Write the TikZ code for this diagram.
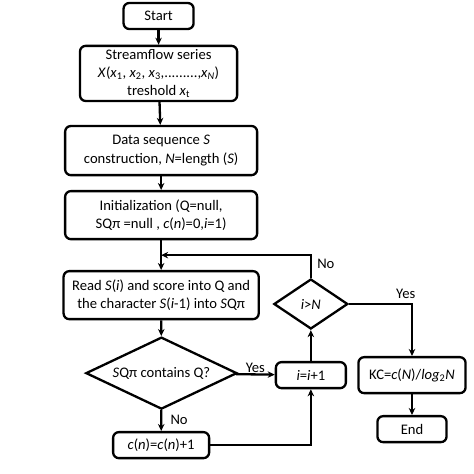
\documentclass[tikz,border=0pt]{standalone}
\usepackage{fontspec}
\setmainfont{Carlito}
\usetikzlibrary{shapes.geometric, arrows.meta}

\tikzset{
  box/.style={draw, rounded corners=0.2cm, align=center, inner sep=1pt},
  test/.style={draw, diamond, align=center, inner sep=0pt},
  lbl/.style={inner sep=1pt}
}

\begin{document}
\fontsize{14.5bp}{18bp}\selectfont
\begin{tikzpicture}[>={Stealth[length=7pt, width=6.5pt]}, line width=2.3pt]
    \useasboundingbox (0,0) rectangle (16.59,-16.59);

    % Main column
    \node[box, minimum width=2.45cm, minimum height=0.91cm] (start) at (5.55,-0.56) {Start};
    \node[box, minimum width=5.5cm, minimum height=1.93cm] (series) at (5.55,-2.57)
        {Streamflow series\\ \textit{X}(\textit{x}\textsubscript{1}, \textit{x}\textsubscript{2}, \textit{x}\textsubscript{3},.........,\textit{x}\textsubscript{\textit{N}})\\ treshold \textit{x}\textsubscript{t}};
    \node[box, minimum width=6.72cm, minimum height=1.72cm] (data) at (5.64,-5.27)
        {Data sequence \textit{S}\\ construction, \textit{N}=length (\textit{S})};
    \node[box, minimum width=6.72cm, minimum height=1.68cm] (init) at (5.64,-7.53)
        {Initialization (Q=null,\\ SQπ =null , \textit{c}(\textit{n})=0,\textit{i}=1)};
    \coordinate (merge) at (5.64,-8.93);
    \node[box, minimum width=6.83cm, minimum height=1.68cm] (read) at (5.64,-10.33)
        {Read \textit{S}(\textit{i}) and score into Q and\\ the character \textit{S}(\textit{i}-1) into \textit{S}Qπ};
    \node[test, aspect=2.1, minimum width=5.29cm, minimum height=2.52cm] (contains) at (5.65,-13.06)
        {\textit{S}Qπ contains  Q?};
    \node[box, minimum width=3.36cm, minimum height=0.91cm] (count) at (5.64,-15.58)
        {\textit{c}(\textit{n})=\textit{c}(\textit{n})+1};

    % Loop column
    \node[test, aspect=1.48, minimum width=2.59cm, minimum height=1.75cm] (check) at (10.88,-10.64)
        {\textit{i}>\textit{N}};
    \node[box, minimum width=2.45cm, minimum height=0.91cm] (incr) at (10.88,-13.13)
        {\textit{i}=\textit{i}+1};

    % End column
    \node[box, minimum width=3.75cm, minimum height=1.26cm] (kc) at (14.42,-13.13)
        {KC=\textit{c}(\textit{N})/\textit{log}\textsubscript{2}\textit{N}};
    \node[box, minimum width=2.42cm, minimum height=0.91cm] (end) at (14.42,-15.02) {End};

    % Connectors
    \draw[->] (start) -- (series);
    \draw[->] (series) -- (data);
    \draw[->] (data) -- (init);
    \draw[->] (init) -- (read);
    \draw[->] (read) -- (contains);
    \draw[->] (contains) -- node[lbl, above] {Yes} (incr);
    \draw[->] (contains) -- node[lbl, pos=0.45, right=0.25cm] {No} (count);
    \draw[->] (count.east) -| (incr.south);
    \draw[->] (incr) -- (check);
    \draw[->] (check.north) |- node[lbl, pos=0.3, right=0.15cm] {No} (merge);
    \draw[->] (check.east) -| node[lbl, pos=0.45, above=0.1cm] {Yes} (kc.north);
    \draw[->] (kc) -- (end);
\end{tikzpicture}
\end{document}
